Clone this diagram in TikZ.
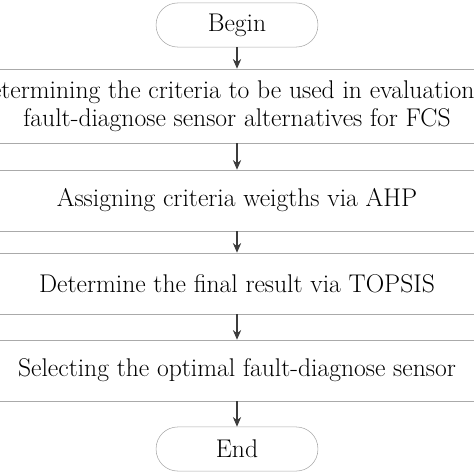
\documentclass[tikz,border=0pt]{standalone}
\usetikzlibrary{arrows.meta}

\definecolor{boxline}{RGB}{170,170,170}
\definecolor{arrowline}{RGB}{60,60,60}

\tikzset{
  terminal/.style={draw=boxline,rounded corners=5.5mm,minimum width=41.1mm,minimum height=11.2mm,inner sep=0pt},
  procbox/.style={draw=boxline,rectangle,minimum width=142mm,inner sep=0pt,align=center},
  flow/.style={arrowline,thick,-{Stealth[length=7pt,width=6pt]}}
}

\begin{document}
\begin{tikzpicture}[x=0.254mm,y=-0.254mm,font=\fontsize{18.5}{19.8}\selectfont]
\useasboundingbox (0,0) rectangle (474,474);
\clip (0,0) rectangle (474,474);
\node (b) [terminal] at (237,25) {Begin};
\node (c) [procbox,minimum height=18.8mm] at (237,106) {Determining the criteria to be used in evaluation of\\fault-diagnose sensor alternatives for FCS};
\node (w) [procbox,minimum height=15.5mm] at (237,200.5) {Assigning criteria weigths via AHP};
\node (t) [procbox,minimum height=15.5mm] at (237,283.5) {Determine the final result via TOPSIS};
\node (s) [procbox,minimum height=15.5mm] at (237,370.5) {Selecting the optimal fault-diagnose sensor};
\node (e) [terminal] at (237,449) {End};
\draw [flow] (b) -- (c);
\draw [flow] (c) -- (w);
\draw [flow] (w) -- (t);
\draw [flow] (t) -- (s);
\draw [flow] (s) -- (e);
\end{tikzpicture}
\end{document}
